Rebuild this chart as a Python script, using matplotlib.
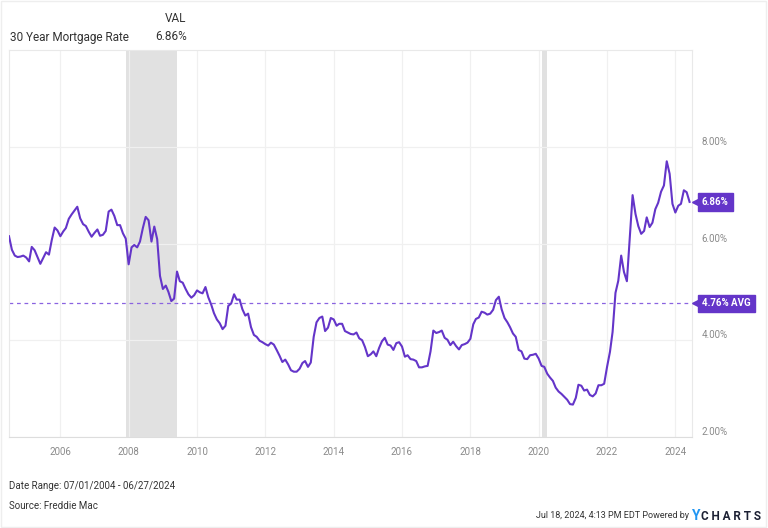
import pandas as pd
import matplotlib.pyplot as plt
import matplotlib.dates as mdates
import matplotlib.transforms as mtransforms

plt.rcParams['font.family'] = ['Roboto', 'DejaVu Sans']

# monthly 30 year fixed mortgage rate, Jul 2004 - Jun 2024 (%)
rates = [
    6.15, 5.87, 5.75, 5.72, 5.73, 5.75,                                # 2004 H2
    5.71, 5.63, 5.93, 5.86, 5.72, 5.58, 5.70, 5.82, 5.77, 6.07, 6.33, 6.27,  # 2005
    6.15, 6.25, 6.32, 6.51, 6.60, 6.68, 6.76, 6.52, 6.40, 6.36, 6.24, 6.14,  # 2006
    6.22, 6.29, 6.16, 6.18, 6.26, 6.66, 6.70, 6.57, 6.38, 6.38, 6.21, 6.10,  # 2007
    5.57, 5.92, 5.97, 5.92, 6.04, 6.32, 6.55, 6.48, 6.04, 6.35, 6.09, 5.33,  # 2008
    5.06, 5.13, 5.00, 4.81, 4.86, 5.42, 5.22, 5.19, 5.06, 4.95, 4.88, 4.93,  # 2009
    5.03, 4.99, 4.97, 5.10, 4.89, 4.74, 4.56, 4.43, 4.35, 4.23, 4.30, 4.71,  # 2010
    4.76, 4.95, 4.84, 4.84, 4.64, 4.51, 4.55, 4.27, 4.11, 4.07, 3.99, 3.96,  # 2011
    3.92, 3.89, 3.95, 3.91, 3.80, 3.68, 3.55, 3.60, 3.50, 3.38, 3.35, 3.35,  # 2012
    3.41, 3.53, 3.57, 3.45, 3.54, 4.07, 4.37, 4.46, 4.49, 4.19, 4.26, 4.46,  # 2013
    4.43, 4.30, 4.34, 4.34, 4.19, 4.16, 4.13, 4.12, 4.16, 4.04, 4.00, 3.86,  # 2014
    3.67, 3.71, 3.77, 3.67, 3.84, 3.98, 4.05, 3.91, 3.89, 3.80, 3.94, 3.96,  # 2015
    3.87, 3.66, 3.69, 3.61, 3.60, 3.57, 3.44, 3.44, 3.46, 3.47, 3.77, 4.20,  # 2016
    4.15, 4.17, 4.20, 4.05, 4.01, 3.90, 3.97, 3.88, 3.81, 3.90, 3.92, 3.95,  # 2017
    4.03, 4.33, 4.44, 4.47, 4.59, 4.57, 4.53, 4.55, 4.63, 4.83, 4.90, 4.64,  # 2018
    4.46, 4.37, 4.27, 4.14, 4.07, 3.80, 3.77, 3.62, 3.61, 3.69, 3.70, 3.72,  # 2019
    3.62, 3.47, 3.45, 3.31, 3.23, 3.16, 3.02, 2.94, 2.89, 2.83, 2.77, 2.68,  # 2020
    2.67, 2.81, 3.08, 3.06, 2.96, 2.98, 2.87, 2.84, 2.90, 3.07, 3.07, 3.10,  # 2021
    3.45, 3.76, 4.17, 4.98, 5.23, 5.75, 5.41, 5.22, 6.11, 7.00, 6.61, 6.36,  # 2022
    6.20, 6.26, 6.54, 6.34, 6.43, 6.71, 6.84, 7.07, 7.20, 7.70, 7.44, 6.82,  # 2023
    6.64, 6.78, 6.82, 7.10, 7.06, 6.86,                                # 2024 H1
]
dates = pd.date_range('2004-07-01', periods=len(rates), freq='MS')
recessions = [('2007-12-01', '2009-06-01'), ('2020-02-01', '2020-04-01')]
avg_rate = 4.76
last_rate = 6.86

purple = '#6435c9'
grid_col = '#f0f0f0'

fig = plt.figure(figsize=(7.68, 5.28), dpi=100)
ax = fig.add_axes([9 / 768, 1 - 437 / 528, 683 / 768, 387 / 528])

for start, end in recessions:
    ax.axvspan(pd.Timestamp(start), pd.Timestamp(end), color='#e1e1e1', lw=0, zorder=1)

ax.plot(dates, rates, color=purple, lw=1.5, zorder=3)
ax.axhline(avg_rate, color='#8a63e0', lw=0.9, ls=(0, (3, 3)), zorder=2)

ax.set_xlim(pd.Timestamp('2004-07-01'), pd.Timestamp('2024-06-27'))
ax.set_ylim(2, 10)
ax.xaxis.set_major_locator(mdates.YearLocator(2))
ax.xaxis.set_major_formatter(mdates.DateFormatter('%Y'))
ax.set_yticks([2, 4, 6, 8])
ax.set_yticklabels(['%.2f%%' % v for v in [2, 4, 6, 8]])
ax.yaxis.tick_right()
ax.tick_params(axis='both', length=0, labelsize=7, labelcolor='#8a8a8a')
ax.tick_params(axis='x', pad=7)
ax.tick_params(axis='y', pad=7)
for lab in ax.get_yticklabels():
    lab.set_va('bottom')
ax.grid(True, color=grid_col, lw=0.9, zorder=0)
for side in ['left', 'top', 'right']:
    ax.spines[side].set_color('#e9e9e9')
ax.spines['bottom'].set_color('#dddddd')

# value tags on the right edge
blend = mtransforms.blended_transform_factory(ax.transAxes, ax.transData)
for yv, txt in [(last_rate, '%.2f%%' % last_rate), (avg_rate, '%.2f%% AVG' % avg_rate)]:
    tri = mtransforms.offset_copy(blend, fig=fig, x=5, y=0, units='dots')
    ax.plot([1.0], [yv], marker='<', ms=7, color=purple, mec=purple,
            transform=tri, clip_on=False, zorder=5)
    ax.annotate(txt, xy=(1.0, yv), xycoords=blend, xytext=(10, 0),
                textcoords='offset pixels', ha='left', va='center',
                fontsize=7, fontweight='bold', color='white',
                bbox=dict(boxstyle='square,pad=0.4', fc=purple, ec=purple),
                annotation_clip=False, zorder=6)

# header
fig.text(186 / 768, 1 - 18 / 528, 'VAL', ha='right', va='center', fontsize=8.5, color='#333333')
fig.text(10 / 768, 1 - 37 / 528, '30 Year Mortgage Rate', ha='left', va='center',
         fontsize=8.5, color='#333333')
fig.text(187 / 768, 1 - 37 / 528, '%.2f%%' % last_rate, ha='right', va='center',
         fontsize=8.5, color='#333333')

# footer
fig.text(9 / 768, 1 - 486 / 528, 'Date Range: 07/01/2004 - 06/27/2024', ha='left', va='center',
         fontsize=7, color='#333333')
fig.text(9 / 768, 1 - 506 / 528, 'Source: Freddie Mac', ha='left', va='center',
         fontsize=7, color='#333333')
fig.text(689 / 768, 1 - 516 / 528, 'Jul 18, 2024, 4:13 PM EDT Powered by', ha='right', va='center',
         fontsize=6.5, color='#333333')
fig.text(692 / 768, 1 - 516 / 528, 'Y', ha='left', va='center', fontsize=10,
         fontweight='bold', color='#2196f3')
fig.text(701 / 768, 1 - 516 / 528, 'C H A R T S', ha='left', va='center', fontsize=8.5,
         fontweight='bold', color='#1c2033')

fig.patches.append(plt.Rectangle((0.001, 0.001), 0.997, 0.997, transform=fig.transFigure,
                                 fill=False, ec='#eeeeee', lw=1))

fig.savefig('out.png', dpi=100)
